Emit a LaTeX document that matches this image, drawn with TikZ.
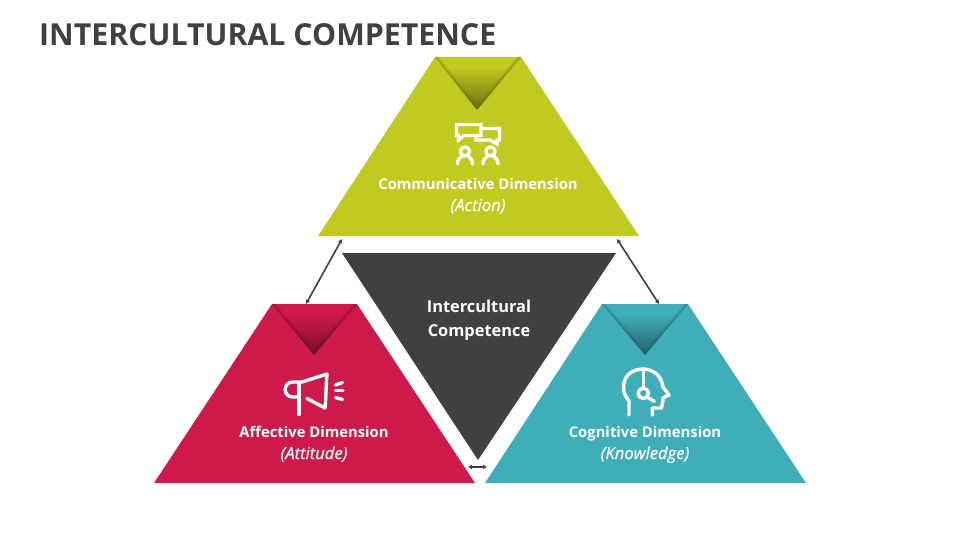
\documentclass[tikz,border=0pt]{standalone}
\usepackage{fontspec}
\setmainfont{Open Sans}[ItalicFeatures={FakeBold=0.5}]
\usetikzlibrary{calc,arrows.meta}
\definecolor{cLime}{HTML}{C1CA20}
\definecolor{cRed}{HTML}{CD1A4B}
\definecolor{cTeal}{HTML}{40AEB9}
\definecolor{cDark}{HTML}{404040}
\definecolor{cTitle}{HTML}{404040}
\definecolor{dLime}{HTML}{6B7010}
\definecolor{dRed}{HTML}{730E2A}
\definecolor{dTeal}{HTML}{235F66}
\newcommand{\foldtri}[5]{% left, right, apex, base, dark
  \begin{scope}
    \clip (#1) -- (#2) -- (#3) -- cycle;
    \shade[top color=#4, bottom color=#5, shading angle=0] ($(#1)+(0,10)$) rectangle ($(#2)+(0,52)$);
    \foreach \w/\o in {7/.10,5/.12,3/.16,1.5/.2}{
      \draw[#5, line width=\w pt, opacity=\o] (#1) -- (#3) -- (#2);
    }
  \end{scope}
}
\tikzset{
  x=1pt,y=-1pt,
  head/.style={font=\bfseries\fontsize{14.8}{17}\selectfont, text=white, inner sep=0pt, anchor=base},
  sub/.style={font=\itshape\fontsize{16.6}{19}\selectfont, text=white, inner sep=0pt, anchor=base},
  link/.style={draw=cDark, line width=1.6pt, {Latex[length=4pt,width=5pt]}-{Latex[length=4pt,width=5pt]}},
  icon/.style={draw=white, line width=3.4pt, line cap=round, line join=round},
}
\begin{document}
\begin{tikzpicture}
\useasboundingbox (0,0) rectangle (960,540);
\node[anchor=base west, inner sep=0pt, text=cTitle, font=\bfseries\fontsize{30.3}{36}\selectfont] (title) at (39,46) {INTERCULTURAL COMPETENCE};

% top block
\coordinate (tl) at (435,57); \coordinate (tr) at (521,57);
\coordinate (tbl) at (318,236); \coordinate (tbr) at (639,236); \coordinate (ta) at (477,110);
\fill[cLime] (tl) -- (tr) -- (tbr) -- (tbl) -- cycle;
\foldtri{tl}{tr}{ta}{cLime}{dLime}
% left block
\coordinate (ll) at (272,304); \coordinate (lr) at (357,304);
\coordinate (lbl) at (154,483); \coordinate (lbr) at (475,483); \coordinate (la) at (314,355);
\fill[cRed] (ll) -- (lr) -- (lbr) -- (lbl) -- cycle;
\foldtri{ll}{lr}{la}{cRed}{dRed}
% right block
\coordinate (rl) at (602,304); \coordinate (rr) at (688,304);
\coordinate (rbl) at (485,483); \coordinate (rbr) at (806,483); \coordinate (ra) at (645,355);
\fill[cTeal] (rl) -- (rr) -- (rbr) -- (rbl) -- cycle;
\foldtri{rl}{rr}{ra}{cTeal}{dTeal}
% centre
\coordinate (cl) at (342,253); \coordinate (cr) at (616,253); \coordinate (ca) at (478,460);
\fill[cDark] (cl) -- (cr) -- (ca) -- cycle;

% connectors
\coordinate (a1) at (342,239); \coordinate (a2) at (306,304);
\coordinate (b1) at (617,239); \coordinate (b2) at (659,304);
\coordinate (c1) at (468,467); \coordinate (c2) at (487,467);
\draw[link] (a1) -- (a2);
\draw[link] (b1) -- (b2);
\draw[link] (c1) -- (c2);

% text
\node[head] (t1) at (478,189.8) {Communicative Dimension};
\node[sub] (t2) at (478,211) {(Action)};
\node[head] (t3) at (314,437.8) {Affective Dimension};
\node[sub] (t4) at (314,459) {(Attitude)};
\node[head] (t5) at (645,437.8) {Cognitive Dimension};
\node[sub] (t6) at (645,459) {(Knowledge)};
\node[font=\bfseries\fontsize{16.4}{24}\selectfont, text=white, inner sep=0pt, anchor=base] (t7) at (479,312) {Intercultural};
\node[font=\bfseries\fontsize{16.4}{24}\selectfont, text=white, inner sep=0pt, anchor=base] (t8) at (479,336) {Competence};

% chat icon
\draw[icon,line cap=butt,line join=miter] (456.5,124.5) -- (481,124.5) -- (481,135.5) -- (464,135.5) -- (458.5,140) -- (458.5,135.5) -- (456.5,135.5) -- cycle;
\draw[icon,line cap=butt,line join=miter] (481,128.5) -- (499.5,128.5) -- (499.5,140) -- (497,140) -- (497,144) -- (490,140) -- (476,140) -- (476,136);
\draw[icon] (465,151.5) circle (4.6);
\draw[icon] (457.5,164) .. controls (457.5,160.5) and (459,158) .. (461.5,156.5);
\draw[icon] (472.5,164) .. controls (472.5,160.5) and (471,158) .. (468.5,156.5);
\draw[icon] (490.5,151.5) circle (4.6);
\draw[icon] (483,164) .. controls (483,160.5) and (484.5,158) .. (487,156.5);
\draw[icon] (498,164) .. controls (498,160.5) and (496.5,158) .. (494,156.5);

% megaphone
\draw[icon] (302,382) -- (293,382) .. controls (282.5,382) and (282.5,397) .. (293,397) -- (298,397);
\draw[icon] (302,382) -- (327,374) .. controls (326,385) and (326,398) .. (325,408) -- (307,398.5);
\draw[icon] (299,384) -- (299,414.5);
\draw[icon] (335.5,385) -- (342.5,382.5);
\draw[icon] (335.5,390.5) -- (343,390.5);
\draw[icon] (335.5,397.5) -- (342.5,399.5);

% head
\draw[icon] (629,415) -- (629,401) .. controls (625,396) and (623.5,392) .. (623.5,387) .. controls (623.5,376) and (632,369) .. (643.3,369) .. controls (654,369) and (662,377) .. (663,387) -- (669,395) -- (663,398) .. controls (663,402) and (662,405) .. (661.5,408) -- (652.3,408) -- (652.3,415);
\draw[icon] (643.3,369) -- (643.3,387.5);
\draw[icon] (643.3,393.3) circle (5.2);
\draw[icon] (647.5,397.5) -- (654.3,401.3);
\end{tikzpicture}
\end{document}
